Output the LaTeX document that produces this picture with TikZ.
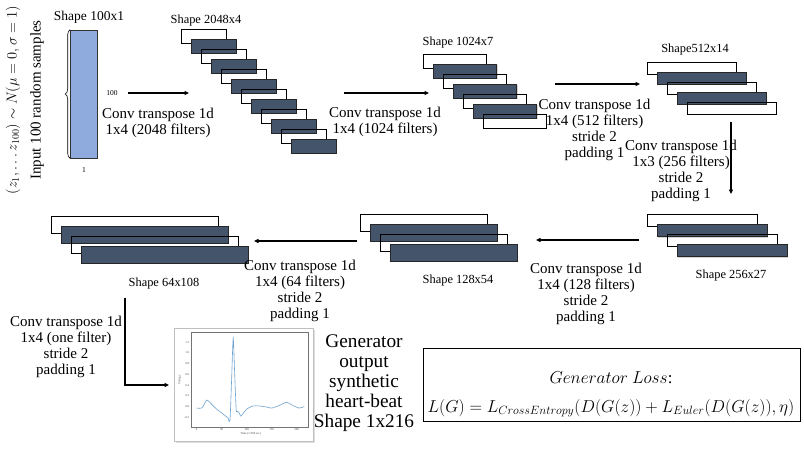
\documentclass[tikz,border=0pt]{standalone}
\usepackage{fontspec}
\setmainfont{Liberation Serif}
\usetikzlibrary{arrows.meta,positioning,shadows,decorations.pathreplacing}

\definecolor{layerblue}{HTML}{44546A}
\definecolor{inputblue}{HTML}{8FAADC}
\definecolor{waveblue}{HTML}{6FA3CF}

\tikzset{
  convtext/.style={align=center,font=\fontsize{15}{16}\selectfont},
  shapetext/.style={font=\fontsize{12.4}{13}\selectfont},
  smalltext/.style={font=\fontsize{7.5}{9}\selectfont},
  flow/.style={line width=1.1pt,-{Triangle[length=4.5pt,width=4pt]}},
  layerout/.style={draw=black,line width=0.6pt},
  layerin/.style={draw=black!85,fill=layerblue,line width=0.6pt,
    drop shadow={shadow xshift=1pt,shadow yshift=-1pt,opacity=0.35}},
  ticktext/.style={font=\fontsize{3}{3}\selectfont,text=black!70,inner sep=0.5pt},
}

%% stack of feature maps: x0, y0, width, height, last index
\newcommand\convstack[5]{%
  \foreach \i in {0,...,#5}{
    \pgfmathsetmacro\xa{#1+10*\i}
    \pgfmathsetmacro\ya{#2+10*\i}
    \ifodd\i
      \draw[layerin] (\xa,\ya) rectangle ++(#3,#4);
    \else
      \draw[layerout] (\xa,\ya) rectangle ++(#3,#4);
    \fi
  }%
}

\begin{document}
\begin{tikzpicture}[x=1pt,y=-1pt]
  \useasboundingbox (0,0) rectangle (804,455);

  %% input
  \node[rotate=90,font=\fontsize{14}{16}\selectfont] (noise) at (13,100)
  {$(z_1, \ldots z_{100}) \sim N(\mu = 0, \sigma = 1)$};
  \node[rotate=90,font=\fontsize{15}{17}\selectfont] (input) at (37,100)
  {Input 100 random samples};
  \node[draw=black!80,fill=inputblue,line width=0.6pt,inner sep=0pt,
    minimum width=27pt,minimum height=128pt] (inbar) at (84,94) {};
  \draw[line width=0.6pt,decorate,decoration={brace,amplitude=5pt}]
  (inbar.south west) -- (inbar.north west);
  \node[font=\fontsize{13.5}{15}\selectfont] (inshape) at (89,17) {Shape 100x1};
  \node[smalltext] (inone) at (84,170) {1};
  \node[smalltext] (inhundred) at (112,93) {100};

  %% feature maps
  \convstack{181}{29}{45}{14}{11}   %% 2048x4
  \convstack{423}{54}{63.5}{14}{6}  %% 1024x7
  \convstack{647}{62}{89}{12}{4}    %% 512x14
  \convstack{647}{214}{110}{12.5}{3} %% 256x27
  \convstack{360}{214.5}{127}{16.5}{3} %% 128x54
  \convstack{51}{216}{167}{17}{3}   %% 64x108

  \node[shapetext] (shapeA) at (206,21) {Shape 2048x4};
  \node[shapetext] (shapeB) at (458,43) {Shape 1024x7};
  \node[shapetext] (shapeC) at (695,50) {Shape512x14};
  \node[shapetext] (shapeD) at (731,276) {Shape 256x27};
  \node[shapetext] (shapeE) at (458,281) {Shape 128x54};
  \node[shapetext] (shapeF) at (164,284) {Shape 64x108};

  %% arrow ends
  \coordinate (a1s) at (128,93);  \coordinate (a1e) at (189,93);
  \coordinate (a2s) at (344,93);  \coordinate (a2e) at (429,93);
  \coordinate (a3s) at (555,84);  \coordinate (a3e) at (640,84);
  \coordinate (a4s) at (731,122); \coordinate (a4e) at (731,194);
  \coordinate (a5s) at (639,240); \coordinate (a5e) at (536,240);
  \coordinate (a6s) at (357,241); \coordinate (a6e) at (254,241);
  \coordinate (a7s) at (125,298); \coordinate (a7e) at (169,385);

  \draw[flow] (a1s) -- (a1e);
  \draw[flow] (a2s) -- (a2e);
  \draw[flow] (a3s) -- (a3e);
  \draw[flow] (a4s) -- (a4e);
  \draw[flow] (a5s) -- (a5e);
  \draw[flow] (a6s) -- (a6e);
  \draw[flow] (a7s) |- (a7e);

  %% layer labels
  \node[convtext] (convA) at (158,122.5) {Conv transpose 1d\\1x4 (2048 filters)};
  \node[convtext] (convB) at (385,121.5) {Conv transpose 1d\\1x4 (1024 filters)};
  \node[convtext] (convC) at (594.5,129.5)
  {Conv transpose 1d\\1x4 (512 filters)\\stride 2\\padding 1};
  \node[convtext] (convD) at (681,170.5)
  {Conv transpose 1d\\1x3 (256 filters)\\stride 2\\padding 1};
  \node[convtext] (convE) at (586,294)
  {Conv transpose 1d\\1x4 (128 filters)\\stride 2\\padding 1};
  \node[convtext] (convF) at (300,291)
  {Conv transpose 1d\\1x4 (64 filters)\\stride 2\\padding 1};
  \node[convtext] (convG) at (66,347)
  {Conv transpose 1d\\1x4 (one filter)\\stride 2\\padding 1};

  %% output plot
  \draw[black!25,line width=1pt,fill=white,
    drop shadow={shadow xshift=1.5pt,shadow yshift=-1.5pt,opacity=0.25}]
  (174,328) rectangle (313,441);
  \draw[black!55,line width=0.4pt] (191,332) rectangle (308,427);
  \begin{scope}[shift={(196.7,406.5)},x=0.5pt,y=53.5pt]
    \foreach \v/\lab in {1.2/1.2,1.0/1.0,0.8/0.8,0.6/0.6,0.4/0.4,0.2/0.2,0/0.0,-0.2/-0.2}
      \node[ticktext,anchor=east] at (-14,\v) {\lab};
    \foreach \t in {0,50,100,150,200}
      \node[ticktext,anchor=north] at (\t,-0.39) {\t};
    \node[ticktext,anchor=north] at (108,-0.47) {Time (1/360 sec)};
    \node[ticktext,rotate=90] at (-34,0.5) {Voltage};
    \draw[waveblue,line width=0.6pt] plot[smooth,tension=0.4] coordinates {
      (0,-0.03) (10,-0.03) (15,0.04) (20,0.12) (25,0.09) (30,0.04)
      (40,-0.05) (50,-0.12) (58,-0.18) (63,-0.22) (65,-0.28) (67,-0.2)
      (70,0.55) (73,1.28) (76,0.6) (79,-0.06) (82,-0.09) (85,-0.12)
      (88,-0.18) (92,-0.14) (100,-0.05) (112,0.01) (125,0.01) (140,-0.01)
      (150,-0.03) (165,0.02) (180,0.08) (190,0.03) (205,-0.03) (215,0.0)};
  \end{scope}

  \node[align=center,font=\fontsize{19.3}{20}\selectfont] (genout) at (364,383)
  {Generator\\output\\synthetic\\heart-beat\\Shape 1x216};

  %% loss
  \node[draw,line width=0.6pt,minimum width=377pt,minimum height=73pt]
  (lossbox) at (611.5,384.5) {};
  \node[font=\fontsize{17}{19}\selectfont] (losstitle) at (611,378)
  {$Generator\ Loss$:};
  \node[font=\fontsize{17.3}{19}\selectfont] (losseq) at (611,408)
  {$L(G) = L_{CrossEntropy}(D\big(G(z)\big) + L_{Euler}(D\big(G(z)\big),\eta)$};
\end{tikzpicture}
\end{document}
